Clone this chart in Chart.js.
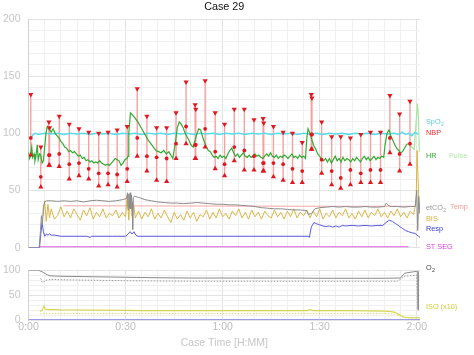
<!DOCTYPE html>
<html><head><meta charset="utf-8">
<script src="https://cdn.jsdelivr.net/npm/chart.js@4"></script>
<style>
html,body{margin:0;padding:0;background:#fff;width:474px;height:355px;overflow:hidden}
#a{position:absolute;left:0;top:0}
#b{position:absolute;left:0;top:256px}
</style></head><body>
<canvas id="a" width="474" height="263"></canvas>
<canvas id="b" width="474" height="99"></canvas>
<script>
// ---------- DATA (time in minutes) ----------
const xTicks = [0,5,10,15,20,25,30,35,40,45,50,55,60,65,70,75,80,85,90,95,100,105,110,115,120];
const topYTicks = [0,10,20,30,40,50,60,70,80,90,100,110,120,130,140,150,160,170,180,190,200];
const botYTicks = [0,10,20,30,40,50,60,70,80,90,100];

const nbpTime = [0.7,3.8,6.3,6.5,9.5,12.6,15.6,18.6,21.7,24.6,27.4,30.5,33.6,36.6,39.6,42.7,45.6,48.7,51.5,51.7,54.6,57.7,60.6,63.6,66.7,69.7,72.5,72.7,75.7,78.7,81.6,84.6,87.4,87.6,90.6,93.7,96.5,99.5,102.7,105.7,108.8,111.7,114.7,117.9];
const nbpSys  = [134,88,110,105,115,108,104,101,100,101,103,106,139,115,105,105,118,145,125,121,146,118,108,121,121,112,113,109,106,101,100,92,134,131,110,97,97,96,99,101,101,133,117,128];
const nbpMean = [96,62,81,81,82,73,74,69,65,65,64,69,96,80,79,78,91,106,90,90,104,84,73,88,85,80,74,74,74,73,69,67,99,99,77,67,61,68,65,68,68,96,82,91];
const nbpDia  = [81,53,72,72,71,60,63,60,54,55,53,58,80,67,59,58,78,91,78,78,88,69,63,76,68,68,67,67,62,59,57,57,86,86,65,55,52,55,57,57,57,83,67,73];

const hr = [[0,84],[0.3,78],[0.6,80],[1,88],[1.3,79],[1.7,82],[2,76],[2.3,80],[2.7,90],[3,77],[3.4,82],[3.8,81],[4.2,74],[4.6,76],[5,88],[5.4,100],[5.8,106],[6.2,104],[6.6,103],[7,101],[7.6,104],[8.2,100],[8.8,98],[9.4,96],[10,93],[10.6,91],[11.2,88],[11.8,87],[12.4,84],[13,85],[13.6,83],[14.2,84],[14.8,82],[15.4,80],[16,81],[16.6,78],[17.2,79],[17.8,76],[18.4,77],[19,75],[19.6,76],[20.2,74],[20.8,75],[21.4,74],[22,76],[22.6,74],[23.2,73],[23.8,72],[24.4,73],[25,72],[25.6,74],[26.2,76],[26.8,78],[27.4,77],[28,76],[28.6,72],[29.2,74],[29.8,77],[30.4,78],[30.8,80],[31,100],[31.5,118],[32.2,116],[33,113],[33.8,110],[34.6,106],[35.4,102],[36.2,98],[37,94],[37.8,91],[38.6,88],[39.4,85],[40.2,84],[41,83],[41.8,85],[42.6,82],[43.4,84],[44.2,80],[44.6,78],[45,85],[45.4,92],[46,105],[46.6,110],[47.2,108],[47.8,105],[48.4,100],[49,97],[49.6,94],[50.2,90],[50.9,88],[51.5,94],[52.1,100],[52.6,104],[53.2,103],[53.8,97],[54.4,92],[55,88],[55.6,85],[56.2,84],[56.8,81],[57.4,79],[58,80],[58.6,78],[59.2,81],[59.8,79],[60.4,80],[61,78],[61.6,82],[62.2,85],[62.8,87],[63.4,83],[64,80],[64.6,82],[65.2,79],[65.8,81],[66.4,83],[67,80],[67.6,79],[68.2,81],[68.8,79],[69.4,80],[70,82],[70.6,80],[71.2,81],[71.8,79],[72.4,78],[73,80],[73.6,82],[74.2,80],[74.8,83],[75.4,80],[76,79],[76.6,81],[77.2,78],[77.8,80],[78.4,79],[79,81],[79.6,80],[80.2,78],[80.8,80],[81.4,82],[82,79],[82.6,80],[83.2,78],[83.8,81],[84.4,79],[85,80],[85.6,78],[86,95],[86.4,104],[87,100],[87.6,94],[88.2,89],[88.8,86],[89.4,82],[90,80],[90.6,77],[91.2,76],[91.8,78],[92.4,75],[93,78],[93.6,74],[94.2,77],[94.8,80],[95.4,76],[96,78],[96.6,75],[97.2,79],[97.8,76],[98.4,78],[99,77],[99.6,75],[100.2,78],[100.8,76],[101.4,79],[102,77],[102.6,75],[103.2,78],[103.8,80],[104.4,77],[105,79],[105.6,76],[106.2,78],[106.8,80],[107.4,77],[108,79],[108.6,78],[109.2,80],[109.8,79],[110.2,90],[110.8,100],[111.4,103],[112,98],[112.6,94],[113.2,90],[113.8,87],[114.4,85],[115,83],[115.6,84],[116.2,87],[116.8,90],[117.2,91]];

const pulse = [[117.6,90],[118.4,88],[119.2,86],[119.8,110],[120.2,126],[120.5,115],[120.8,84]];

const spo2 = [[0.5,96],[1,97],[1.5,99],[2,100],[3,99],[5,100],[7,99.5],[9,100],[11,99],[13,100],[15,99.5],[17,100],[19,99],[21,100],[23,99.5],[25,100],[27,99],[29,100],[31,99.5],[33,100],[35,99],[37,100],[39,99.5],[41,100],[43,99],[45,100],[47,99.5],[49,100],[51,99],[53,100],[55,99.5],[57,100],[59,99],[61,100],[63,99.5],[65,100],[67,99],[69,100],[71,99.5],[73,100],[75,99],[77,100],[79,99.5],[81,100],[83,99],[85,100],[87,99.5],[89,100],[91,99],[93,100],[95,99.5],[97,100],[99,99],[101,100],[103,99.5],[105,100],[107,99],[109,100],[111,99.5],[113,100],[114.5,99],[115.5,101],[116.5,99],[117.5,100],[118.5,98],[119.5,101],[120.5,99]];

const etco2 = [[0,0],[3.3,0],[3.7,15],[4,28],[4.3,20],[4.6,35],[5,40],[5.5,41],[7,41],[9,40.5],[11,41],[13,40.5],[15,41],[17,40],[19,41],[21,41.5],[23,41],[25,40.5],[27,41],[29,42],[30.3,43],[30.6,48],[30.8,33],[31,47],[31.2,35],[31.4,48],[31.6,34],[31.8,46],[32,40],[32.2,16],[32.4,44],[32.8,45],[34,44],[36,42],[38,41],[40,40],[42,39.5],[44,39],[46,39],[48,38.5],[50,39],[52,39.5],[54,39],[56,38.5],[58,38],[60,38],[62,37.5],[64,37.5],[66,37],[68,36.5],[70,36],[72,35],[74,34.5],[76,34],[78,34],[80,33.5],[82,33],[84,33],[86,32.5],[86.5,29],[87.5,30],[88.5,34],[90,35],[92,35.5],[94,36],[96,35.5],[98,36],[100,35.5],[102,35.5],[104,36],[106,35.5],[108,35.5],[110,36],[110.6,39],[111.2,37],[112,36],[114,36],[116,35.5],[118,36],[119.5,36],[120,50],[120.3,15],[120.6,45],[121,30]];

const temp = [[10.8,36.6],[20,36.6],[40,36.5],[60,36.4],[80,36.3],[100,36.2],[119,36.2]];

const bis = [[4.5,28],[5,41],[5.5,23],[6,38],[6.5,26],[7,34],[8,25],[9,28],[10,36],[11,27],[12,32],[13,26],[14,34],[15,29],[16,24],[17,33],[18,28],[19,35],[20,25],[21,31],[22,27],[23,34],[24,26],[25,30],[26,28],[27,33],[28,26],[29,31],[30,27],[30.5,45],[31,24],[31.5,47],[32,28],[32.5,38],[33,26],[34,32],[35,25],[36,31],[37,27],[38,34],[39,25],[40,30],[41,26],[42,33],[43,27],[44,22],[45,31],[46,25],[47,29],[48,24],[49,32],[50,26],[51,31],[52,23],[53,29],[54,27],[55,33],[56,25],[57,31],[58,26],[59,34],[60,27],[61,30],[62,25],[63,32],[64,28],[65,34],[66,26],[67,31],[68,25],[69,33],[70,27],[71,31],[72,25],[73,32],[74,28],[75,26],[76,33],[77,27],[78,31],[79,25],[80,32],[81,27],[82,34],[83,26],[84,31],[85,28],[86,33],[87,26],[88,32],[89,27],[90,34],[91,25],[92,30],[93,27],[94,33],[95,26],[96,31],[97,28],[98,34],[99,26],[100,30],[101,25],[102,32],[103,27],[104,33],[105,26],[106,31],[107,28],[108,34],[109,27],[110,31],[111,26],[112,32],[113,28],[114,34],[115,27],[116,31],[117,26],[118,32],[119,29],[119.8,40],[120.1,85],[120.4,60],[120.8,30]];

const resp = [[0,0],[3.4,0],[3.8,12],[4.2,22],[4.6,14],[5,10],[5.5,12],[6,11],[6.5,12],[7,11],[8,11],[10,10],[14,10],[18,10],[19,9],[19.5,10],[26,10],[30,10],[30.8,12],[31.4,14],[32,12],[32.6,14],[33.2,11],[33.8,10],[50,10],[70,10],[86.4,10],[86.8,9],[87.4,18],[88.2,22],[89,21],[90,20],[91,19],[92,18.5],[93,19],[94,18],[95,19],[96,18],[97,19.5],[98,19],[100,19.5],[102,19],[104,19.5],[106,19],[108,19.5],[109.5,19.5],[110.5,22],[111.5,24],[112.5,23],[113.5,21],[114.5,19],[115.5,17],[116.5,15],[117.5,14],[118.5,13],[119.5,12.5],[120.5,10],[121,9]];

const stseg = [[3.5,0.8],[30,0.8],[60,0.8],[90,0.8],[117.4,0.8]];

const o2Insp = [[0,100],[3,100],[3.5,99],[4.2,97],[5,94],[5.8,91],[6.6,89],[8,88.5],[10,88],[15,87.5],[20,87],[25,86.5],[30,86],[35,85.5],[40,85],[50,84.5],[60,84.5],[70,84.5],[80,84.5],[90,84],[100,84],[110,84],[115,84.5],[115.8,91],[116.3,94],[117,95],[118,96],[119,97],[120,98],[120.3,98],[120.4,20],[120.5,97],[120.7,98]];
const o2Exp = [[3.8,84],[4.1,77],[4.5,75],[5,79],[6,81],[8,81.5],[10,81],[15,80.5],[20,80],[25,79.5],[30,79],[40,78.5],[50,78],[60,78],[70,78],[80,78],[90,78],[100,78],[110,78],[114,78],[115.5,84],[116,88],[118,89],[120,90],[120.4,22],[120.6,88]];
const isoInsp = [[3.5,17],[4.2,20],[4.8,28],[5.2,22],[6,21],[8,21],[10,20.5],[20,20],[30,19.5],[35,19],[40,19],[50,19],[60,19],[70,19],[80,19],[86,19],[87,21],[88,19],[95,19],[100,19],[105,18.5],[110,18],[112,17],[113,16],[114,13],[115,9],[116,6],[117,5],[118,4.5],[121,4.5]];
const isoExp = [[3.5,12],[5,13],[10,13],[20,13],[40,13],[60,13],[80,13],[100,13],[110,13],[113,12],[115,8],[116,5],[118,4],[121,4]];
const n2o = [[0,1],[30,1],[60,1],[90,1],[121,1]];

// ---------- RENDERING ----------
Chart.defaults.font.family = "'Liberation Sans', Arial, Helvetica, sans-serif";
const P = a => a.map(([x, y]) => ({x, y}));
const line = (label, arr, color, w, dash) => ({label, data: P(arr), borderColor: color, backgroundColor: color, borderWidth: w || 1, pointRadius: 0, tension: 0, fill: false, borderDash: dash || []});

const nbpLines = [];
nbpTime.forEach((t, i) => { nbpLines.push({x: t, y: nbpSys[i]}, {x: t, y: nbpDia[i]}, {x: t, y: null}); });
const markers = (label, vals, style, r, rot) => ({label, data: nbpTime.map((t, i) => ({x: t, y: vals[i]})), showLine: false, pointStyle: style, pointRadius: r, pointRotation: rot || 0, pointBackgroundColor: '#e01820', pointBorderColor: '#e01820', pointBorderWidth: 0});

const gridColorX = c => (c.tick && c.tick.value % 30 === 0) ? '#e3e3e3' : '#f0f0f0';
const gridColorY = c => (c.tick && c.tick.value % 50 === 0) ? '#e3e3e3' : '#f0f0f0';
const fmtTime = v => (v % 30 === 0) ? Math.floor(v / 60) + ':' + String(v % 60).padStart(2, '0') : '';

function sideText(ctx, items) {
  ctx.save();
  ctx.textBaseline = 'middle';
  ctx.textAlign = 'left';
  items.forEach(it => {
    ctx.font = "7.3px 'Liberation Sans', Arial, sans-serif";
    ctx.fillStyle = it.color;
    ctx.fillText(it.text, it.x, it.y);
    if (it.sub) {
      const w = ctx.measureText(it.text).width;
      ctx.font = "5.2px 'Liberation Sans', Arial, sans-serif";
      ctx.fillText(it.sub, it.x + w + 0.3, it.y + 2.6);
    }
  });
  ctx.restore();
}

const topLabels = [
  {text: 'SpO', sub: '2', x: 426, y: 122, color: '#5cc9ef'},
  {text: 'NBP', x: 426, y: 133.3, color: '#ee3030'},
  {text: 'HR', x: 426, y: 156, color: '#36a536'},
  {text: 'Pulse', x: 449, y: 156, color: '#b2e8aa'},
  {text: 'etCO', sub: '2', x: 426, y: 208, color: '#9a9a9a'},
  {text: 'Temp', x: 450, y: 206.5, color: '#f29c9c'},
  {text: 'BIS', x: 426, y: 219, color: '#d6b23e'},
  {text: 'Resp', x: 426, y: 229, color: '#3838c8'},
  {text: 'ST SEG', x: 426, y: 246.7, color: '#e23ee2'}
];
const botLabels = [
  {text: 'O', sub: '2', x: 426, y: 11.5, color: '#444444'},
  {text: 'ISO (x10)', x: 426, y: 51, color: '#d2cc3a'}
];

const topPlugin = {id: 'topText', afterDraw(chart) {
  const ctx = chart.ctx;
  ctx.save();
  ctx.font = "10.8px 'Liberation Sans', Arial, sans-serif";
  ctx.fillStyle = '#111';
  ctx.textAlign = 'center';
  ctx.textBaseline = 'middle';
  ctx.fillText('Case 29', (chart.chartArea.left + chart.chartArea.right) / 2, 7);
  ctx.restore();
  sideText(ctx, topLabels);
}};
const botPlugin = {id: 'botText', afterDraw(chart) { sideText(chart.ctx, botLabels); }};

new Chart(document.getElementById('a'), {
  type: 'line',
  data: {datasets: [
    markers('NBP sys', nbpSys, 'triangle', 3, 180),
    markers('NBP mean', nbpMean, 'circle', 1.9),
    markers('NBP dia', nbpDia, 'triangle', 3, 0),
    line('HR', hr, '#33aa33', 1.2),
    line('SpO2', spo2, '#58dcec', 1.5),
    {label: 'NBP', data: nbpLines, borderColor: '#f6a0a0', borderWidth: 1.4, pointRadius: 0, spanGaps: false, tension: 0},
    line('Pulse', pulse, '#a8e6a0', 1.2),
    line('etCO2', etco2, '#8c8c8c', 1),
    line('BIS', bis, '#dab648', 1),
    line('Temp', temp, '#f4a7a7', 1),
    line('Resp', resp, '#5a5ade', 1),
    line('ST SEG', stseg, '#e055e0', 1)
  ]},
  options: {
    responsive: false, animation: false,
    layout: {padding: {top: 19, bottom: 15.3, left: 0, right: 54}},
    plugins: {legend: {display: false}, tooltip: {enabled: false}},
    scales: {
      x: {type: 'linear', min: 0, max: 121,
        afterBuildTicks: s => { s.ticks = xTicks.map(v => ({value: v})); },
        afterFit: s => { s.height = 0; },
        ticks: {display: false}, grid: {drawTicks: false, color: gridColorX}, border: {display: false}},
      y: {type: 'linear', min: 0, max: 200,
        afterBuildTicks: s => { s.ticks = topYTicks.map(v => ({value: v})); },
        afterFit: s => { s.width = 28.5; },
        ticks: {callback: v => v % 50 === 0 ? v : '', color: '#c6c6c6', font: {size: 10.5}, padding: 8, autoSkip: false},
        grid: {drawTicks: false, color: gridColorY}, border: {color: '#d2d2d2'}}
    }
  },
  plugins: [topPlugin]
});

new Chart(document.getElementById('b'), {
  type: 'line',
  data: {datasets: [
    line('O2 insp', o2Insp, '#8a8a8a', 1),
    line('O2 exp', o2Exp, '#9a9a9a', 1, [1.5, 1.5]),
    line('ISO insp', isoInsp, '#d8d650', 1.2),
    line('ISO exp', isoExp, '#dcdc6a', 1, [1.5, 1.5]),
    line('N2O', n2o, '#9a9ae8', 1)
  ]},
  options: {
    responsive: false, animation: false,
    layout: {padding: {top: 10.7, bottom: 0, left: 0, right: 54}},
    plugins: {legend: {display: false}, tooltip: {enabled: false}},
    scales: {
      x: {type: 'linear', min: 0, max: 121,
        afterBuildTicks: s => { s.ticks = xTicks.map(v => ({value: v})); },
        afterFit: s => { s.height = 35; },
        ticks: {callback: fmtTime, color: '#bdbdbd', font: {size: 10.5}, padding: 1, autoSkip: false, maxRotation: 0},
        grid: {drawTicks: false, color: gridColorX}, border: {display: false},
        title: {display: true, text: 'Case Time [H:MM]', color: '#c6c6c6', font: {size: 10.5}, padding: {top: 0, bottom: 5.7}}},
      y: {type: 'linear', min: 0, max: 100,
        afterBuildTicks: s => { s.ticks = botYTicks.map(v => ({value: v})); },
        afterFit: s => { s.width = 28.5; },
        ticks: {callback: v => v % 50 === 0 ? v : '', color: '#c6c6c6', font: {size: 10.5}, padding: 8, autoSkip: false},
        grid: {drawTicks: false, color: gridColorY}, border: {color: '#d2d2d2'}}
    }
  },
  plugins: [botPlugin]
});
</script>
</body></html>
